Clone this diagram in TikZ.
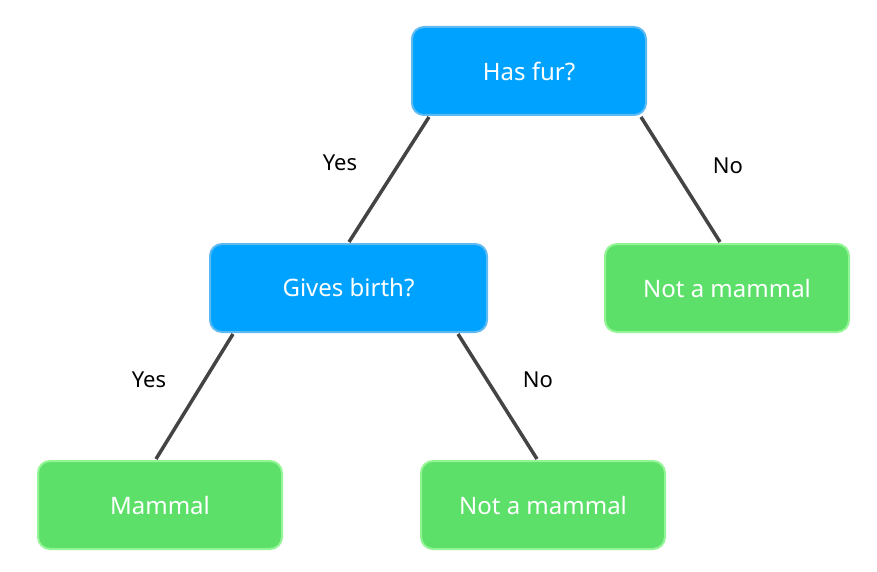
\documentclass[tikz,border=0pt]{standalone}
\usepackage{fontspec}
\setmainfont{Noto Sans}
\usetikzlibrary{calc}
\definecolor{bfill}{HTML}{00A2FF}
\definecolor{bdraw}{HTML}{5DB9F2}
\definecolor{gfill}{HTML}{5CE06A}
\definecolor{gdraw}{HTML}{94F597}
\definecolor{edge}{HTML}{444444}
\begin{document}
\begin{tikzpicture}[x=1pt,y=-1pt,
  box/.style={rounded corners=12pt,line width=2pt,minimum height=88pt,text=white,font=\fontsize{24}{28}\selectfont\bfseries,inner sep=0pt},
  qbox/.style={box,fill=bfill,draw=bdraw},
  lbox/.style={box,fill=gfill,draw=gdraw,minimum width=244pt},
  conn/.style={draw=edge,line width=3.5pt},
  lab/.style={font=\fontsize{22}{26}\selectfont\bfseries,text=black}]
\useasboundingbox (0,0) rectangle (877,572);
\node[qbox,minimum width=234pt] (fur) at (529,71) {Has fur?};
\node[qbox,minimum width=277pt] (birth) at (348.5,288) {Gives birth?};
\node[lbox] (nm1) at (727,288) {Not a mammal};
\node[lbox] (mam) at (160,505) {Mammal};
\node[lbox] (nm2) at (543,505) {Not a mammal};
\draw[conn] ($(fur.south west)+(18,1)$) -- ($(birth.north west)+(140,-1)$);
\draw[conn] ($(fur.south east)+(-6,1)$) -- ($(nm1.north)+(-7,-1)$);
\draw[conn] ($(birth.south west)+(24,1)$) -- ($(mam.north)+(-4,-1)$);
\draw[conn] ($(birth.south west)+(249,1)$) -- ($(nm2.north)+(-6,-1)$);
\node[lab] (l1) at (340,163) {Yes};
\node[lab] (l2) at (728,166) {No};
\node[lab] (l3) at (149,380) {Yes};
\node[lab] (l4) at (538,380) {No};
\end{tikzpicture}
\end{document}
